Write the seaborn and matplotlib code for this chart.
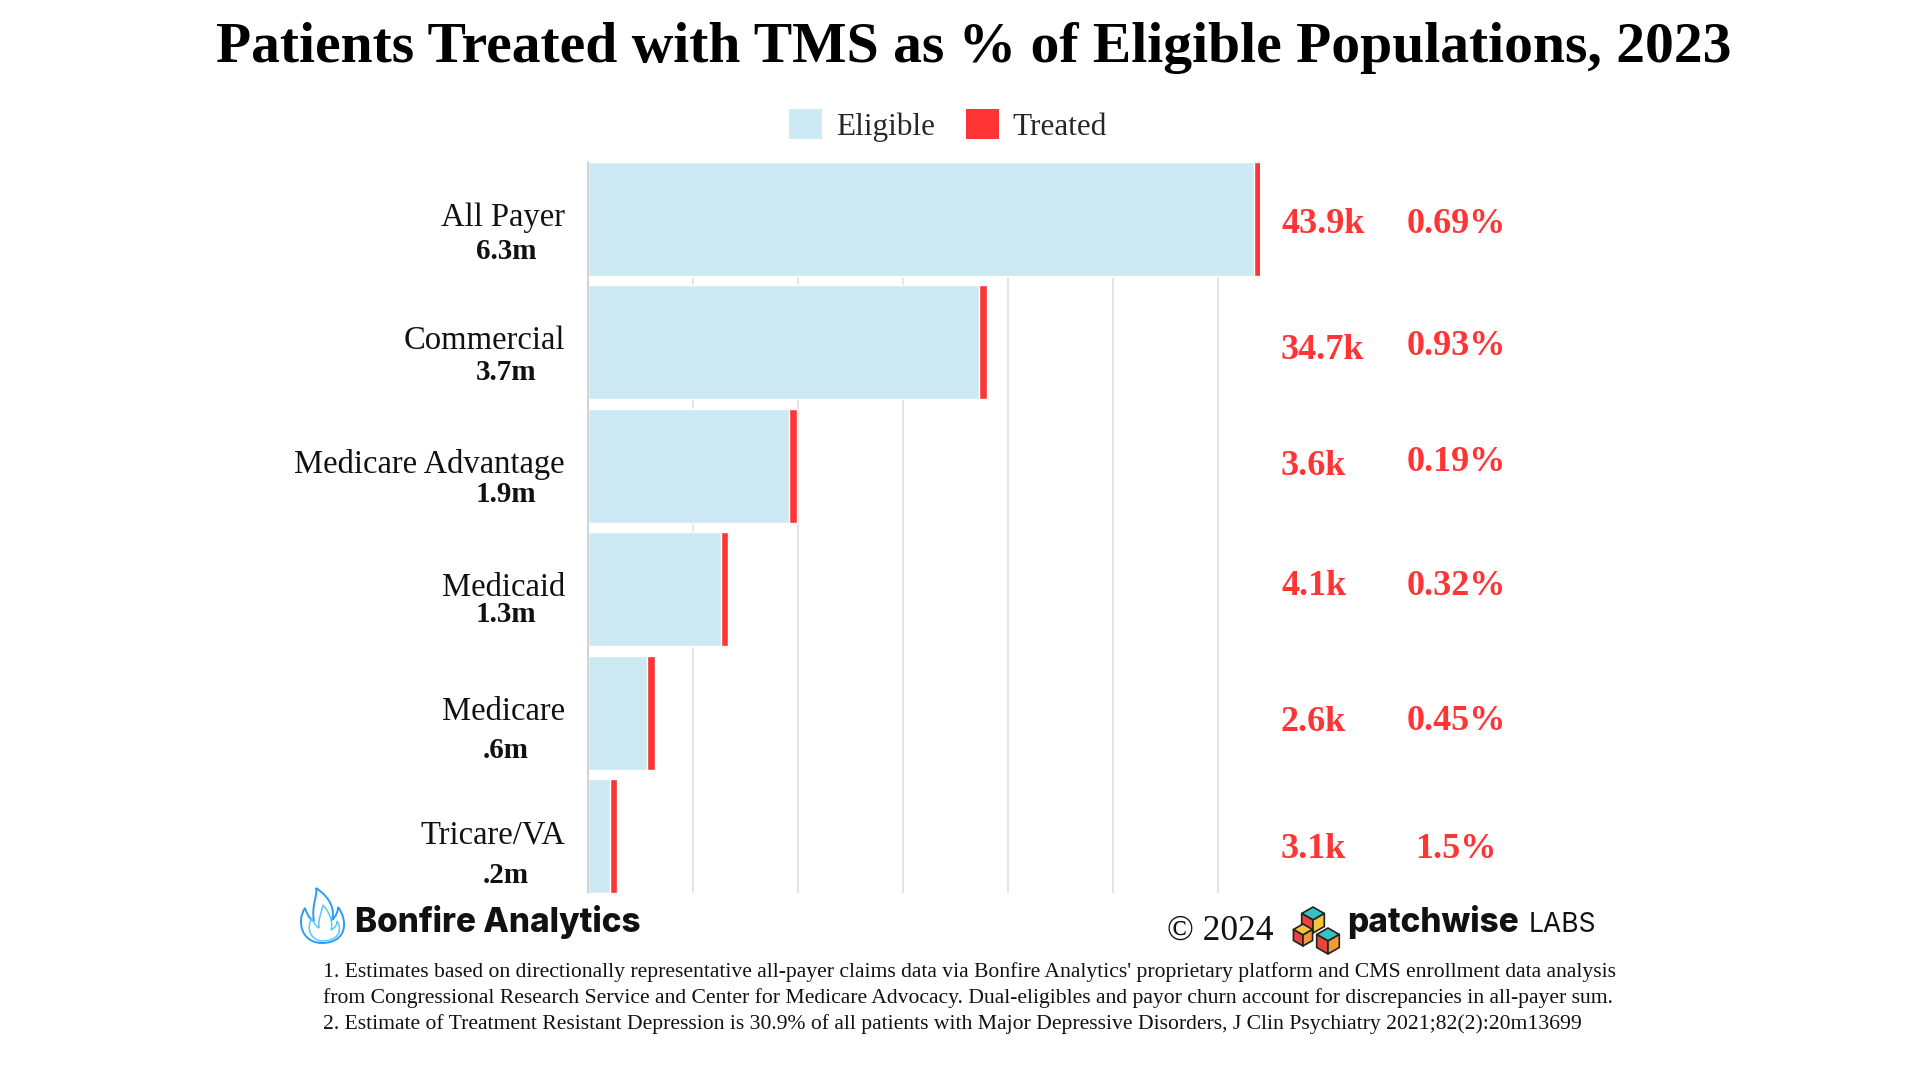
import matplotlib
matplotlib.use("Agg")
import matplotlib.pyplot as plt
import seaborn as sns
import pandas as pd
from matplotlib.patches import Patch, Polygon, PathPatch
from matplotlib.path import Path
from matplotlib.transforms import blended_transform_factory

# ---------------- data ----------------
categories = ["All Payer", "Commercial", "Medicare Advantage", "Medicaid", "Medicare", "Tricare/VA"]
eligible_m = [6.34, 3.73, 1.92, 1.27, 0.57, 0.21]          # eligible population, millions
eligible_labels = ["6.3m", "3.7m", "1.9m", "1.3m", ".6m", ".2m"]
treated_k = [43.9, 34.7, 3.6, 4.1, 2.6, 3.1]               # treated patients, thousands
treated_labels = ["43.9k", "34.7k", "3.6k", "4.1k", "2.6k", "3.1k"]
pct_labels = ["0.69%", "0.93%", "0.19%", "0.32%", "0.45%", "1.5%"]
title = "Patients Treated with TMS as % of Eligible Populations, 2023"
footnotes = [
    "1. Estimates based on directionally representative all-payer claims data via Bonfire Analytics' proprietary platform and CMS enrollment data analysis",
    "from Congressional Research Service and Center for Medicare Advocacy. Dual-eligibles and payor churn account for discrepancies in all-payer sum.",
    "2. Estimate of Treatment Resistant Depression is 30.9% of all patients with Major Depressive Disorders, J Clin Psychiatry 2021;82(2):20m13699",
]

# layout tweaks (pixel offsets from bar centres, per row)
VALUE_DY = [40, 38, 36, 33, 45, 47]
K_DY = [5.6, 8.2, 0.5, -2.9, 9.8, 13]
PCT_DY = [5.6, 4.5, -3.2, -2.9, 8.6, 13]

# ---------------- style ----------------
sns.set_theme(style="white")
plt.rcParams['font.family'] = ['Liberation Serif', 'DejaVu Serif']

BLUE = "#CDE9F3"
RED = "#FF3535"
W, H = 1920, 1080

fig = plt.figure(figsize=(19.2, 10.8), dpi=100)
ax_left, ax_right, ax_top, ax_bot = 587.5, 1260, 162, 893
ax = fig.add_axes([ax_left / W, 1 - ax_bot / H, (ax_right - ax_left) / W, (ax_bot - ax_top) / H])

df = pd.DataFrame({"category": categories, "eligible": eligible_m, "treated": treated_k})
STUB = 0.07  # visual width of the red "treated" cap
df["cap_end"] = df["eligible"] + STUB

sns.barplot(data=df, y="category", x="cap_end", color=RED, orient="h",
            width=0.92, saturation=1, ax=ax, zorder=2)
sns.barplot(data=df, y="category", x="eligible", color=BLUE, orient="h",
            width=0.92, saturation=1, ax=ax, zorder=3)

ax.set_xlim(0, 6.4)
ax.set_ylim(len(categories) - 0.54, -0.46)
ax.set_xticks(range(0, 7))
ax.grid(axis="x", color="#DCDCDC", lw=1.1)
ax.grid(axis="y", visible=False)
ax.set_axisbelow(True)
ax.tick_params(left=False, bottom=False, labelleft=False, labelbottom=False)
ax.set_xlabel("")
ax.set_ylabel("")
for s in ["top", "right", "bottom"]:
    ax.spines[s].set_visible(False)
ax.spines["left"].set_color("#C8C8C8")
ax.spines["left"].set_linewidth(1.1)
ax.spines["left"].set_zorder(5)

# labels
tr = blended_transform_factory(fig.transFigure, ax.transData)
px = 1.0 / 123.5  # one pixel in y data units
for i, (cat, el, tl, pl) in enumerate(zip(categories, eligible_labels, treated_labels, pct_labels)):
    ax.text(565 / W, i + 7 * px, cat, transform=tr, ha="right", va="baseline",
            fontsize=23.5, color="#111111", clip_on=False)
    ax.text(506 / W, i + VALUE_DY[i] * px, el, transform=tr, ha="center", va="baseline",
            fontsize=21, fontweight="bold", color="#111111", clip_on=False)
    ax.text(1281 / W, i + K_DY[i] * px, tl, transform=tr, ha="left", va="center",
            fontsize=26, fontweight="bold", color=RED, clip_on=False)
    ax.text(1456 / W, i + PCT_DY[i] * px, pl, transform=tr, ha="center", va="center",
            fontsize=26, fontweight="bold", color=RED, clip_on=False)

# title
fig.text(973.5 / W, 1 - 48 / H, title, ha="center", va="center",
         fontsize=41.5, fontweight="bold", color="#000000")

# legend
handles = [Patch(facecolor=BLUE, edgecolor="none", label="Eligible"),
           Patch(facecolor=RED, edgecolor="none", label="Treated")]
fig.legend(handles=handles, loc="center", bbox_to_anchor=(948 / W, 1 - 125.5 / H),
           ncol=2, frameon=False, fontsize=22.5, handlelength=1.05, handleheight=1.1,
           handletextpad=0.45, columnspacing=1.0, borderaxespad=0)

# ---------------- footer / overlay ----------------
ov = fig.add_axes([0, 0, 1, 1], zorder=-1)
ov.set_xlim(0, W)
ov.set_ylim(H, 0)
ov.axis("off")

# Bonfire flame logo
def flame(points, **kw):
    codes = [Path.MOVETO] + [Path.CURVE4] * (len(points) - 2) + [Path.CLOSEPOLY]
    return PathPatch(Path(points, codes), **kw)

outer = [(322, 943),
         (302, 943), (296, 922), (305, 908),
         (308, 917), (311, 920), (314, 921),
         (311, 905), (318, 896), (316, 888),
         (331, 898), (335, 910), (332, 920),
         (336, 916), (338, 912), (338, 907),
         (349, 922), (346, 943), (322, 943),
         (322, 943)]
inner = [(322, 941),
         (310, 940), (306, 928), (312, 918),
         (314, 924), (317, 927), (319, 928),
         (318, 918), (322, 911), (323, 905),
         (331, 914), (333, 924), (331, 930),
         (335, 928), (337, 925), (337, 921),
         (343, 931), (338, 941), (322, 941),
         (322, 941)]
ov.add_patch(flame(outer, facecolor="none", edgecolor="#2F9CF4", lw=1.4))
ov.add_patch(flame(inner, facecolor="none", edgecolor="#5AC8FA", lw=1.1))
ov.text(355, 932, "Bonfire Analytics", ha="left", va="baseline", fontsize=24,
        fontweight="heavy", family=["Inter", "DejaVu Sans"], color="#111111")

# © 2024 + patchwise labs
ov.text(1167, 940, "© 2024", ha="left", va="baseline", fontsize=25.5, color="#111111")

def cube(cx, cy, s, top, left, right):
    t = [(cx, cy - s * 0.5), (cx + s * 0.435, cy - s * 0.25), (cx, cy), (cx - s * 0.435, cy - s * 0.25)]
    l = [(cx - s * 0.435, cy - s * 0.25), (cx, cy), (cx, cy + s * 0.5), (cx - s * 0.435, cy + s * 0.25)]
    r = [(cx, cy), (cx + s * 0.435, cy - s * 0.25), (cx + s * 0.435, cy + s * 0.25), (cx, cy + s * 0.5)]
    for poly, c in [(t, top), (l, left), (r, right)]:
        ov.add_patch(Polygon(poly, closed=True, facecolor=c, edgecolor="#222222", lw=1.2, joinstyle="round"))

cube(1313, 920, 26, "#39C0C4", "#E8463C", "#F6C33B")
cube(1303, 935, 22, "#F6C33B", "#E8463C", "#F39A34")
cube(1328, 941, 26, "#39C0C4", "#E8463C", "#F39A34")

ov.text(1347, 932, "patchwise", ha="left", va="baseline", fontsize=24,
        fontweight="heavy", family=["Inter", "DejaVu Sans"], color="#111111")
ov.text(1529, 932, "LABS", ha="left", va="baseline", fontsize=19,
        family=["Inter", "DejaVu Sans"], color="#111111")

# footnotes
for k, line in enumerate(footnotes):
    ov.text(323, 977 + 26 * k, line, ha="left", va="baseline", fontsize=15.6, color="#111111")

fig.savefig("out.png", dpi=100)
